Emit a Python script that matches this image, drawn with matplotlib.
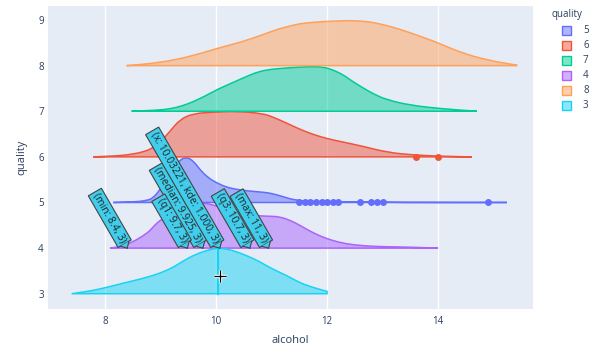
import numpy as np
import matplotlib.pyplot as plt
from matplotlib.patches import Rectangle, Polygon, PathPatch
from matplotlib.path import Path
from matplotlib.lines import Line2D
from matplotlib.transforms import IdentityTransform

plt.rcParams['font.family'] = ['Open Sans', 'DejaVu Sans']

TXT = '#2a3f5f'
BG = '#E5ECF6'

qualities = [5, 6, 7, 4, 8, 3]
colors = ['#636EFA', '#EF553B', '#00CC96', '#AB63FA', '#FFA15A', '#19D3F3']

# one-sided kde outline per quality: alcohol value -> scaled density
kde_x = {
    5: [8.15, 8.5, 8.75, 8.87, 8.99, 9.1, 9.2, 9.35, 9.47, 9.6, 9.71, 9.85, 10.01,
        10.2, 10.4, 10.6, 10.8, 10.95, 11.09, 11.25, 11.4, 11.6, 11.8, 12.3, 12.7,
        13.2, 15.24],
    6: [7.79, 8.2, 8.45, 8.7, 8.87, 9.0, 9.17, 9.35, 9.59, 9.95, 10.37, 10.85, 11.05,
        11.27, 11.5, 11.75, 12.0, 12.23, 12.65, 13.08, 13.55, 14.16, 14.61],
    7: [8.48, 8.9, 9.17, 9.4, 9.59, 9.8, 10.01, 10.25, 10.49, 10.7, 10.91, 11.27,
        11.69, 11.93, 12.1, 12.29, 12.45, 12.65, 12.85, 13.08, 13.5, 14.1, 14.7],
    4: [8.09, 8.3, 8.51, 8.7, 8.81, 8.93, 9.05, 9.25, 9.5, 9.75, 10.0, 10.3, 10.6,
        10.9, 11.15, 11.35, 11.51, 11.65, 11.81, 11.99, 12.2, 12.47, 12.8, 13.07,
        13.5, 14.0],
    8: [8.39, 8.8, 9.29, 9.7, 10.0, 10.49, 10.8, 11.09, 11.3, 11.51, 11.75, 12.0,
        12.41, 12.7, 12.9, 13.2, 13.5, 13.75, 14.0, 14.4, 14.88, 15.42],
    3: [7.40, 7.79, 8.1, 8.39, 8.6, 8.87, 9.05, 9.23, 9.4, 9.59, 9.83, 10.03, 10.2,
        10.37, 10.6, 10.79, 11.0, 11.27, 11.45, 11.63, 12.0],
}
kde_h = {
    5: [0.0, 0.01, 0.04, 0.10, 0.28, 0.50, 0.74, 0.93, 1.0, 0.90, 0.72, 0.55, 0.43,
        0.33, 0.28, 0.25, 0.23, 0.21, 0.17, 0.11, 0.06, 0.03, 0.02, 0.015, 0.015,
        0.0, 0.0],
    6: [0.0, 0.02, 0.05, 0.11, 0.20, 0.33, 0.56, 0.82, 0.95, 0.98, 1.0, 0.95, 0.86,
        0.74, 0.61, 0.49, 0.40, 0.34, 0.23, 0.10, 0.04, 0.01, 0.0],
    7: [0.0, 0.02, 0.05, 0.12, 0.21, 0.33, 0.47, 0.60, 0.73, 0.84, 0.91, 0.95,
        0.98, 0.97, 0.91, 0.80, 0.66, 0.51, 0.37, 0.25, 0.13, 0.05, 0.0],
    4: [0.0, 0.04, 0.14, 0.28, 0.38, 0.55, 0.65, 0.85, 0.97, 1.0, 0.93, 0.80, 0.72,
        0.70, 0.69, 0.60, 0.50, 0.40, 0.30, 0.21, 0.13, 0.07, 0.04, 0.03, 0.02, 0.0],
    8: [0.0, 0.04, 0.13, 0.26, 0.37, 0.53, 0.66, 0.79, 0.86, 0.92, 0.95, 0.97,
        0.99, 0.97, 0.93, 0.84, 0.72, 0.61, 0.50, 0.29, 0.12, 0.01],
    3: [0.0, 0.07, 0.16, 0.25, 0.31, 0.40, 0.48, 0.58, 0.71, 0.84, 0.95, 1.0, 0.98,
        0.92, 0.81, 0.70, 0.55, 0.40, 0.28, 0.18, 0.05],
}
outliers = {
    5: [11.5, 11.6, 11.7, 11.8, 11.9, 12.0, 12.1, 12.2, 12.6, 12.8, 12.9, 13.0, 14.9],
    6: [13.6, 14.0],
}

# hover box shown on the quality 3 violin
hover_text = ['(min: 8.4, 3)', '(q1: 9.7, 3)', '(median: 9.925, 3)',
              '(x: 10.03221, kde: 1.000, 3)', '(q3: 10.7, 3)', '(max: 11, 3)']
hover_x = [8.4, 9.7, 9.925, 10.03221, 10.7, 11.0]
hover_shift = [0, -12, -9, 2, -5, -3]     # pixel nudges so the boxes don't pile up
hover_order = [2, 3, 1, 4, 5, 0]


def smooth_path(xs, ys, base):
    # quadratic bezier through the midpoints, closed along the baseline
    pts = np.column_stack([xs, ys])
    verts = [(xs[0], base), pts[0], (pts[0] + pts[1]) / 2]
    codes = [Path.MOVETO, Path.LINETO, Path.LINETO]
    for i in range(1, len(pts) - 1):
        verts += [pts[i], (pts[i] + pts[i + 1]) / 2]
        codes += [Path.CURVE3, Path.CURVE3]
    verts += [pts[-1], (xs[-1], base), (xs[0], base)]
    codes += [Path.LINETO, Path.LINETO, Path.CLOSEPOLY]
    return Path(verts, codes)


W, H, DPI = 600, 346, 100
fig = plt.figure(figsize=(W / DPI, H / DPI), dpi=DPI)
ax = fig.add_axes([48 / W, 37 / H, 485 / W, 303 / H])
ax.set_facecolor(BG)
ax.set_xlim(6.973, 15.71)
ax.set_ylim(2.665, 9.307)
for s in ax.spines.values():
    s.set_visible(False)
ax.set_xticks([8, 10, 12, 14])
ax.set_yticks([3, 4, 5, 6, 7, 8, 9])
ax.tick_params(length=0, labelsize=7, labelcolor=TXT)
ax.tick_params(axis='x', pad=5)
ax.tick_params(axis='y', pad=3)
ax.grid(axis='x', color='white', lw=1)
ax.set_axisbelow(True)
ax.set_xlabel('alcohol', fontsize=8, color=TXT, labelpad=6)
ax.set_ylabel('quality', fontsize=8, color=TXT, labelpad=8)

for k, (q, c) in enumerate(zip(qualities, colors)):
    xs = np.array(kde_x[q])
    ys = q + np.array(kde_h[q])
    z = 2 + k
    p = smooth_path(xs, ys, q)
    ax.add_patch(PathPatch(p, fc=c, alpha=0.5, ec='none', zorder=z))
    ax.add_patch(PathPatch(p, fc='none', ec=c, lw=1.1, zorder=z))
    if q in outliers:
        ax.plot(outliers[q], [q] * len(outliers[q]), 'o', color=c, ms=4, zorder=z)

# highlighted kde line under the cursor
ax.plot([hover_x[3], hover_x[3]], [3, 4.0], color='#19D3F3', lw=1.6, zorder=9)

# hover labels, rotated, pointer tip on top edge of the quality 3 violin
fs = 7.4
pad = 0.2
ang = np.radians(-60)
u = np.array([np.cos(ang), np.sin(ang)])
nrm = np.array([-u[1], u[0]])
arrow = 5.0
pad_px = pad * fs * DPI / 72
for rank, i in enumerate(hover_order):
    z = 20 + 2 * rank
    tip = ax.transData.transform((hover_x[i], 4.0)) + np.array([hover_shift[i], 0])
    base = tip - u * arrow
    anchor = base - u * pad_px
    fig.text(anchor[0], anchor[1], hover_text[i], transform=IdentityTransform(),
             rotation=-60, rotation_mode='anchor', ha='right', va='center',
             fontsize=fs, color='#222222', zorder=z,
             bbox=dict(boxstyle=f'square,pad={pad}', fc='#41CDEC', ec='#444444', lw=0.8))
    tri = [tip, base + nrm * 5, base - nrm * 5]
    fig.add_artist(Polygon(tri, closed=True, fc='#41CDEC', ec='none',
                           transform=IdentityTransform(), zorder=z + 1))
    for p in (tri[1], tri[2]):
        fig.add_artist(Line2D([tip[0], p[0]], [tip[1], p[1]], color='#444444', lw=0.8,
                              transform=IdentityTransform(), zorder=z + 1))

# mouse cursor
ax.plot(10.07, 3.39, marker='+', ms=9, mew=2.4, color='white', zorder=40)
ax.plot(10.07, 3.39, marker='+', ms=9, mew=0.9, color='black', zorder=41)

# legend
fig.text(552 / W, 1 - 15 / H, 'quality', fontsize=7, color=TXT, va='center', ha='left')
for k, (q, c) in enumerate(zip(qualities, colors)):
    yc = H - (30.7 + 15 * k)
    fig.add_artist(Rectangle((562, yc - 4.5), 9, 9, fc=c, alpha=0.5, ec='none',
                             transform=IdentityTransform()))
    fig.add_artist(Rectangle((562, yc - 4.5), 9, 9, fc='none', ec=c, lw=1,
                             transform=IdentityTransform()))
    fig.text(583, yc, str(q), fontsize=7, color=TXT, va='center', ha='left',
             transform=IdentityTransform())

fig.savefig('out.png', dpi=DPI, facecolor='white')
